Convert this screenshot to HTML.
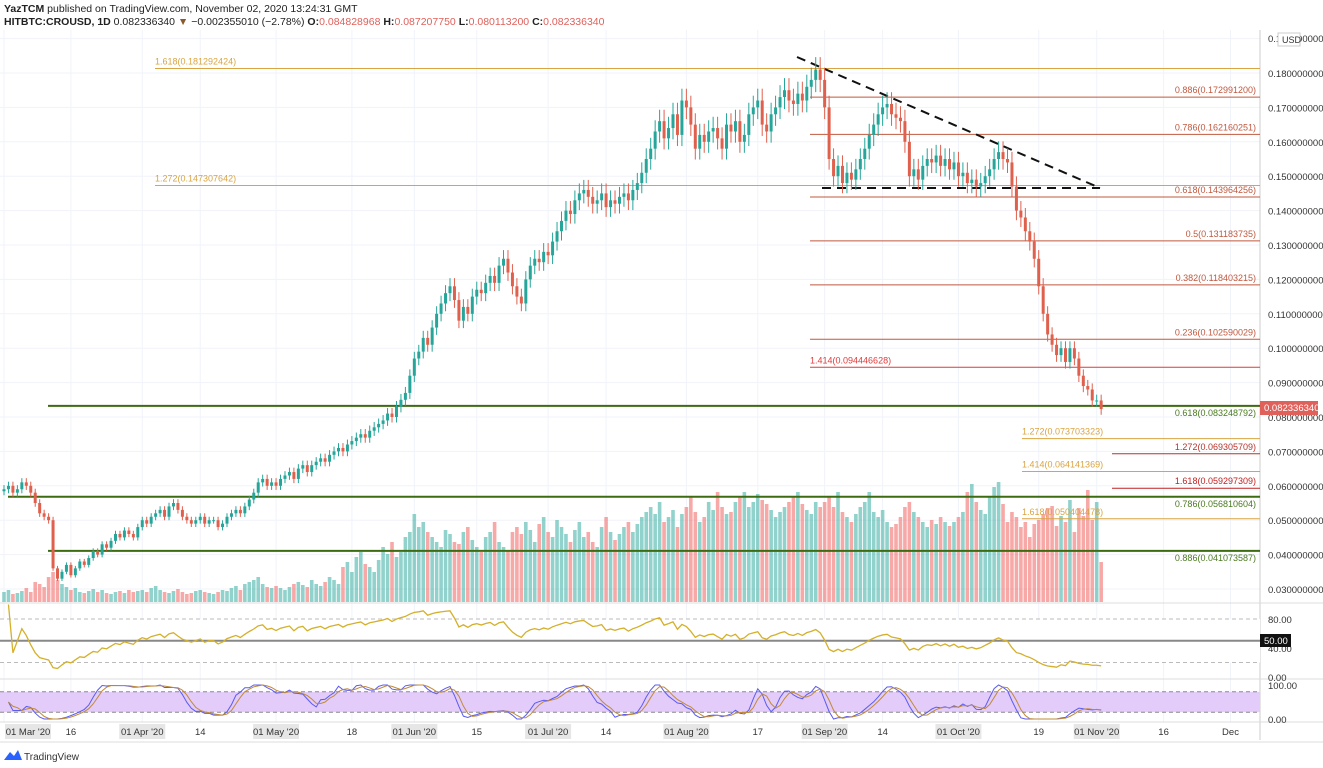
<!DOCTYPE html>
<html><head><meta charset="utf-8"><style>
body{margin:0;background:#fff;font-family:"Liberation Sans",sans-serif;}
svg{display:block}
text{font-family:"Liberation Sans",sans-serif;}
</style></head><body>
<svg id="c" width="1323" height="768" xmlns="http://www.w3.org/2000/svg">
<rect width="1323" height="768" fill="#fff"/>
<text x="4" y="12" font-size="10.5" fill="#222"><tspan font-weight="bold">YazTCM</tspan> published on TradingView.com, November 02, 2020 13:24:31 GMT</text>
<text x="4" y="25" font-size="10.5" fill="#222"><tspan font-weight="bold">HITBTC:CROUSD, 1D</tspan> 0.082336340 <tspan fill="#8b5a2b">▼</tspan> −0.002355010 (−2.78%) <tspan font-weight="bold">O:</tspan><tspan fill="#e0605a">0.084828968</tspan> <tspan font-weight="bold">H:</tspan><tspan fill="#e0605a">0.087207750</tspan> <tspan font-weight="bold">L:</tspan><tspan fill="#e0605a">0.080113200</tspan> <tspan font-weight="bold">C:</tspan><tspan fill="#e0605a">0.082336340</tspan></text>
<g id="grid"></g>
<g id="vol"></g>
<g id="lines"></g>
<g id="candles"></g>
<g id="ind"></g>
<g id="axis"></g>
</svg>
<script>
const closes=[0.059,0.060,0.058,0.059,0.061,0.060,0.058,0.055,0.052,0.051,
0.050,0.036,0.033,0.035,0.037,0.034,0.036,0.038,0.037,0.039,
0.041,0.040,0.043,0.042,0.044,0.046,0.045,0.047,0.046,0.045,
0.048,0.050,0.049,0.051,0.052,0.053,0.051,0.054,0.055,0.053,
0.051,0.050,0.049,0.050,0.051,0.049,0.050,0.050,0.048,0.049,
0.051,0.052,0.053,0.052,0.054,0.056,0.058,0.061,0.062,0.060,
0.061,0.060,0.062,0.063,0.064,0.062,0.065,0.066,0.064,0.066,
0.067,0.068,0.067,0.069,0.070,0.071,0.070,0.072,0.073,0.074,
0.075,0.074,0.076,0.077,0.078,0.079,0.081,0.080,0.083,0.085,
0.087,0.092,0.097,0.099,0.103,0.101,0.106,0.110,0.113,0.116,
0.118,0.114,0.108,0.112,0.110,0.115,0.117,0.116,0.119,0.121,
0.119,0.124,0.126,0.122,0.118,0.115,0.113,0.120,0.124,0.126,
0.125,0.128,0.127,0.131,0.134,0.137,0.140,0.139,0.143,0.145,
0.146,0.144,0.142,0.143,0.145,0.141,0.143,0.142,0.144,0.145,
0.143,0.146,0.148,0.151,0.155,0.158,0.163,0.166,0.161,0.164,
0.168,0.162,0.172,0.170,0.165,0.158,0.162,0.160,0.163,0.164,
0.161,0.158,0.165,0.163,0.166,0.160,0.162,0.168,0.170,0.172,
0.165,0.163,0.168,0.170,0.173,0.175,0.172,0.171,0.174,0.172,
0.176,0.178,0.181,0.178,0.170,0.155,0.150,0.153,0.148,0.151,
0.149,0.152,0.155,0.158,0.162,0.165,0.168,0.170,0.171,0.168,
0.167,0.166,0.160,0.150,0.152,0.149,0.153,0.155,0.154,0.156,
0.153,0.155,0.152,0.154,0.150,0.151,0.148,0.149,0.147,0.148,
0.150,0.152,0.155,0.157,0.155,0.154,0.147,0.140,0.138,0.134,
0.131,0.126,0.118,0.110,0.104,0.101,0.098,0.100,0.096,0.100,
0.097,0.092,0.089,0.088,0.0848,0.0848,0.0823];
const volumes=[10,12,8,9,11,14,10,20,18,15,25,30,22,18,15,12,14,10,9,11,13,10,12,9,8,10,11,9,12,10,11,
12,10,14,16,12,10,9,11,13,10,8,9,11,12,10,9,8,10,12,11,14,16,12,18,20,22,25,18,15,14,
16,14,12,15,18,20,17,15,22,18,16,20,25,22,18,35,40,30,45,50,38,35,30,42,55,48,60,45,50,65,70,
88,75,80,70,65,60,55,72,68,60,58,70,75,62,55,50,65,70,80,60,55,52,70,75,68,80,72,60,78,85,
70,65,82,75,68,60,72,80,65,70,60,55,75,85,70,62,68,75,80,70,78,85,90,95,88,100,80,85,92,75,88,
95,105,90,80,85,100,92,110,95,88,90,100,105,110,95,100,108,102,98,92,85,90,95,100,105,110,98,92,88,100,95,
100,105,95,110,90,85,80,88,95,100,110,90,85,92,80,75,78,85,95,100,90,85,80,75,82,78,85,80,76,80,
85,90,110,118,100,92,88,105,115,120,98,80,90,85,75,80,65,78,82,88,94,96,76,86,80,102,70,94,86,112,82,
100,40];
const priceTicks=[0.19,0.18,0.17,0.16,0.15,0.14,0.13,0.12,0.11,0.10,0.09,0.08,0.07,0.06,0.05,0.04,0.03];
const dateLabels=["01 Mar '20","16","01 Apr '20","14","01 May '20","18","01 Jun '20","15","01 Jul '20","14","01 Aug '20","17","01 Sep '20","14","01 Oct '20","19","01 Nov '20","16","Dec"];
const dateDays=[0,15,31,44,61,78,92,106,122,135,153,169,184,197,214,232,245,260,275];
const fibLevels=[
["1.618(0.181292424)",0.181292424,155,"#d9a441","left"],
["0.886(0.172991200)",0.172991200,810,"#c0583e","right"],
["0.786(0.162160251)",0.162160251,810,"#c0583e","right"],
["1.272(0.147307642)",0.147307642,155,"#d9a441","left"],
["0.618(0.143964256)",0.143964256,810,"#c0583e","right"],
["0.5(0.131183735)",0.131183735,810,"#c0583e","right"],
["0.382(0.118403215)",0.118403215,810,"#c0583e","right"],
["0.236(0.102590029)",0.102590029,810,"#c0583e","right"],
["1.414(0.094446628)",0.094446628,810,"#e03a3a","left"],
["1.272(0.073703323)",0.073703323,1022,"#d9a441","left"],
["1.272(0.069305709)",0.069305709,1112,"#b5342e","right"],
["1.414(0.064141369)",0.064141369,1022,"#d9a441","left"],
["1.618(0.059297309)",0.059297309,1112,"#c21f1f","right"],
["1.618(0.050404478)",0.050404478,1022,"#d9a441","left"]];
const greenLevels=[["0.618(0.083248792)",0.083248792,48],["0.786(0.056810604)",0.056810604,8],["0.886(0.041073587)",0.041073587,48]];

const NS="http://www.w3.org/2000/svg";
const X0=4,DX=4.46,RIGHT=1260;
const xs=d=>X0+d*DX;
const ys=p=>73+(0.18-p)*3440;
const rsiY=v=>677-v*0.725;
const stY=v=>719-v*0.34;
function mk(parent,tag,attrs){const e=document.createElementNS(NS,tag);for(const k in attrs)e.setAttribute(k,attrs[k]);document.getElementById(parent).appendChild(e);return e;}

// grid
for(const p of priceTicks){const l=mk('grid','line',{x1:0,x2:RIGHT,y1:ys(p),y2:ys(p),stroke:'#f0f3fa'});

}
for(const d of dateDays){const l=mk('grid','line',{x1:xs(d),x2:xs(d),y1:30,y2:722,stroke:'#f0f3fa'});

}
mk('grid','line',{x1:RIGHT,x2:RIGHT,y1:30,y2:740,stroke:'#ccc'});
mk('grid','line',{x1:0,x2:1323,y1:603,y2:603,stroke:'#ddd'});
mk('grid','line',{x1:0,x2:1323,y1:679,y2:679,stroke:'#ddd'});
mk('grid','line',{x1:0,x2:1323,y1:722,y2:722,stroke:'#ddd'});
mk('grid','line',{x1:0,x2:1323,y1:742,y2:742,stroke:'#ddd'});

// volume
for(let i=0;i<volumes.length;i++){const up=i===0||closes[i]>=closes[i-1];
const r=mk('vol','rect',{x:xs(i)-1.8,y:602-volumes[i],width:3.6,height:volumes[i],fill:up?'#26a69a':'#ef5350',opacity:0.5});

}

// fib lines
for(const f of fibLevels){const y=ys(f[1]);
const l=mk('lines','line',{x1:f[2],x2:RIGHT,y1:y,y2:y,stroke:f[3],'stroke-width':1});


const t=mk('lines','text',{x:f[4]==='left'?f[2]:RIGHT-4,y:y-4,'font-size':9,fill:f[3],'text-anchor':f[4]==='left'?'start':'end'});
t.textContent=f[0];

}
for(const g of greenLevels){const y=ys(g[1]);
const l=mk('lines','line',{x1:g[2],x2:RIGHT,y1:y,y2:y,stroke:'#3d6b12','stroke-width':2});


const t=mk('lines','text',{x:RIGHT-4,y:y+10,'font-size':9,fill:'#4a7a20','text-anchor':'end'});
t.textContent=g[0];

}
const tl=mk('lines','line',{x1:797,y1:57,x2:1100,y2:188,stroke:'#111','stroke-width':2,'stroke-dasharray':'9,6'});


const hl=mk('lines','line',{x1:822,y1:188,x2:1100,y2:188,stroke:'#111','stroke-width':2,'stroke-dasharray':'9,6'});



// candles
for(let i=0;i<closes.length;i++){const o=i?closes[i-1]:closes[0]*0.99,c=closes[i];const up=c>=o;const col=up?'#26a69a':'#e0604e';
const hi=Math.max(o,c)*1.02,lo=Math.min(o,c)*0.98;
const w=mk('candles','line',{x1:xs(i),x2:xs(i),y1:ys(hi),y2:ys(lo),stroke:col});


const top=ys(Math.max(o,c)),h=Math.max(1,Math.abs(ys(o)-ys(c)));
const b=mk('candles','rect',{x:xs(i)-1.5,y:top,width:3,height:h,fill:col});

}

// RSI computed from closes
function rsi(arr,n){const out=[];let g=0,l=0;for(let i=1;i<arr.length;i++){const d=arr[i]-arr[i-1];const gu=Math.max(d,0),lo=Math.max(-d,0);
if(i<=n){g+=gu/n;l+=lo/n;}else{g=(g*(n-1)+gu)/n;l=(l*(n-1)+lo)/n;}out.push(l===0?100:100-100/(1+g/l));}return out;}
const rs=rsi(closes,14);
mk('ind','rect',{x:0,y:rsiY(80),width:RIGHT,height:rsiY(20)-rsiY(80),fill:'#fff'});
for(const v of [80,20]){mk('ind','line',{x1:0,x2:RIGHT,y1:rsiY(v),y2:rsiY(v),stroke:'#bbb','stroke-dasharray':'4,3'});}
mk('ind','line',{x1:0,x2:RIGHT,y1:rsiY(50),y2:rsiY(50),stroke:'#888','stroke-width':2});
let pts=rs.map((v,i)=>xs(i+1)+','+rsiY(v)).join(' ');
const rl=mk('ind','polyline',{points:pts,fill:'none',stroke:'#d4b02a','stroke-width':1.3});


// Stoch RSI
const st=[];for(let i=0;i<rs.length;i++){const s=rs.slice(Math.max(0,i-13),i+1);const mn=Math.min(...s),mx=Math.max(...s);st.push(mx===mn?50:(rs[i]-mn)/(mx-mn)*100);}
const sm=(a,n)=>a.map((v,i)=>{const s=a.slice(Math.max(0,i-n+1),i+1);return s.reduce((x,y)=>x+y,0)/s.length;});
const k=sm(st,3),dd=sm(k,3);
mk('ind','rect',{x:0,y:stY(80),width:RIGHT,height:stY(20)-stY(80),fill:'#e3ccfa'});
for(const v of [80,20]){mk('ind','line',{x1:0,x2:RIGHT,y1:stY(v),y2:stY(v),stroke:'#888','stroke-dasharray':'4,3'});}
const kl=mk('ind','polyline',{points:k.map((v,i)=>xs(i+1)+','+stY(v)).join(' '),fill:'none',stroke:'#5b5bf0','stroke-width':1});


const dl=mk('ind','polyline',{points:dd.map((v,i)=>xs(i+1)+','+stY(v)).join(' '),fill:'none',stroke:'#c08a3a','stroke-width':1});



// axes
for(const p of priceTicks){if(p>0.185)continue;const t=mk('axis','text',{x:1268,y:ys(p)+4,'font-size':9.5,fill:'#333'});t.textContent=p.toFixed(9);

}
const ub=mk('axis','text',{x:1268,y:42,'font-size':9.5,fill:'#333'});ub.textContent='0.190000000';
const usd=mk('axis','rect',{x:1278,y:33,width:22,height:13,fill:'#fff',stroke:'#ccc'});


const ut=mk('axis','text',{x:1282,y:43,'font-size':9,fill:'#333'});ut.textContent='USD';
const pb=mk('axis','rect',{x:1260,y:401,width:58,height:14,fill:'#e0605a'});


const pt=mk('axis','text',{x:1264,y:411,'font-size':9.5,fill:'#fff'});pt.textContent='0.082336340';
for(const [v,lab] of [[80,'80.00'],[40,'40.00'],[0,'0.00']]){const t=mk('axis','text',{x:1268,y:rsiY(v)+4,'font-size':9.5,fill:'#333'});t.textContent=lab;}
const b50=mk('axis','rect',{x:1260,y:634,width:31,height:13,fill:'#111'});
const t50=mk('axis','text',{x:1264,y:644,'font-size':9.5,fill:'#fff'});t50.textContent='50.00';
for(const [v,lab] of [[100,'100.00'],[0,'0.00']]){const t=mk('axis','text',{x:1268,y:stY(v)+4,'font-size':9.5,fill:'#333'});t.textContent=lab;}
for(let i=0;i<dateLabels.length;i++){const x=Math.max(28,xs(dateDays[i]));const big=dateLabels[i].length>4;
if(big){const r=mk('axis','rect',{x:x-23,y:724,width:46,height:15,fill:'#e6e6e6'});}
const t=mk('axis','text',{x:x,y:735,'font-size':9.5,fill:'#333','text-anchor':'middle'});t.textContent=dateLabels[i];

}
const logo=mk('axis','path',{d:'M4 760 L10 752 L14 756 L18 750 L22 760 Z',fill:'#2962ff'});


const lt=mk('axis','text',{x:24,y:760,'font-size':10,fill:'#333'});lt.textContent='TradingView';
</script>
</body></html>
